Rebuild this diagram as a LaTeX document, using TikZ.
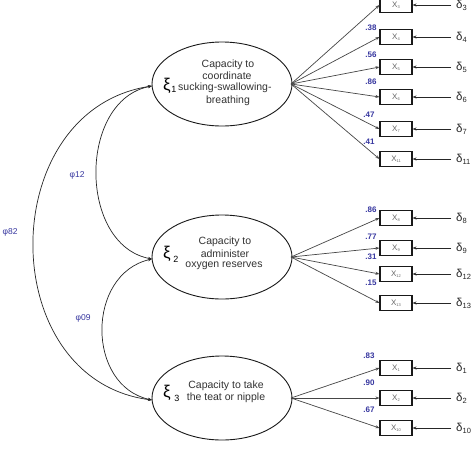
\documentclass[tikz,border=0pt]{standalone}
\usepackage{fontspec}
\setmainfont{Liberation Sans}
\usetikzlibrary{shapes.geometric,arrows.meta}
\definecolor{lblue}{RGB}{55,55,160}
\definecolor{lgray}{RGB}{70,70,70}
\newcommand\xsub[1]{X\raisebox{-1.2pt}{\fontsize{4}{4}\selectfont #1}}
\begin{document}
\begin{tikzpicture}[x=1pt,y=-1pt,
  latent/.style={draw=black!90,line width=0.9pt,ellipse,minimum width=140pt,minimum height=84pt,inner sep=0pt},
  txt/.style={font=\fontsize{10.5}{12}\selectfont,text=black!80,inner sep=0pt},
  xi/.style={font=\fontsize{17}{17}\selectfont,inner sep=0pt},
  xisub/.style={font=\fontsize{9}{9}\selectfont,inner sep=0pt},
  obs/.style={draw=black!90,line width=1.1pt,minimum width=32pt,minimum height=15pt,inner sep=0pt,font=\fontsize{8}{8}\selectfont,text=black!60},
  load/.style={draw=lgray,line width=0.7pt,-{Stealth[length=4pt,width=3pt]}},
  err/.style={draw=black!85,line width=0.8pt,-{Stealth[length=4pt,width=3pt]}},
  cov/.style={draw=black!85,line width=0.7pt,{Stealth[length=4pt,width=3pt]}-{Stealth[length=4pt,width=3pt]}},
  coef/.style={font=\fontsize{8}{8}\selectfont\bfseries,text=lblue,inner sep=0pt},
  phil/.style={font=\fontsize{8.5}{8.5}\selectfont,text=lblue,inner sep=0pt},
  dlab/.style={anchor=west,font=\fontsize{11.5}{11.5}\selectfont,text=black!85,inner sep=0pt}]
\useasboundingbox (0,0) rectangle (474,474);
\fill[white] (0,0) rectangle (474,474);

% latent variables
\node[latent] (e1) at (222,84) {};
\node[latent] (e2) at (222,257) {};
\node[latent] (e3) at (222,398) {};

% texts in ellipses
\node[txt] at (228,65) {Capacity to};
\node[txt] at (227,76) {coordinate};
\node[txt,anchor=west] at (178,88) {sucking-swallowing-};
\node[txt] at (228,101) {breathing};
\node[xi] at (167,86) {ξ};
\node[xisub] at (174,89) {1};

\node[txt] at (225,242) {Capacity to};
\node[txt] at (225,254) {administer};
\node[txt] at (224,266) {oxygen reserves};
\node[xi] at (167,254) {ξ};
\node[xisub] at (176,259) {2};

\node[txt] at (226,386) {Capacity to take};
\node[txt] at (226,398) {the teat or nipple};
\node[xi] at (167,393) {ξ};
\node[xisub] at (177,398) {3};

% covariances
\coordinate (c1) at (152,86);
\coordinate (c2) at (152,259);
\coordinate (c3) at (152,400);
\draw[cov] (c1) .. controls (-6,110) and (-6,380) .. (c3);
\draw[cov] (c1) .. controls (78,100) and (78,245) .. (c2);
\draw[cov] (c2) .. controls (86,274) and (86,386) .. (c3);
\node[phil] at (77,175) {φ12};
\node[phil] at (10,232) {φ82};
\node[phil] at (83,318) {φ09};

% observed variables
\coordinate (o1) at (291,84);
\coordinate (o2) at (291,257);
\coordinate (o3) at (291,398);

\foreach \n/\yy in {3/5,4/37,5/67,6/97,7/129,11/159}{
  \node[obs] (x\n) at (396,\yy) {\xsub{\n}};
  \coordinate (d\n) at (451,\yy);
  \draw[load] (o1) -- (x\n.west);
  \draw[err] (d\n) -- (x\n.east);
  \node[dlab] at (456,\yy) {δ\raisebox{-2pt}{\fontsize{7.5}{7.5}\selectfont\n}};
}
\foreach \n/\yy in {8/218,9/248,12/274,13/303}{
  \node[obs] (x\n) at (396,\yy) {\xsub{\n}};
  \coordinate (d\n) at (451,\yy);
  \draw[load] (o2) -- (x\n.west);
  \draw[err] (d\n) -- (x\n.east);
  \node[dlab] at (456,\yy) {δ\raisebox{-2pt}{\fontsize{7.5}{7.5}\selectfont\n}};
}
\foreach \n/\yy in {1/368,2/398,10/428}{
  \node[obs] (x\n) at (396,\yy) {\xsub{\n}};
  \coordinate (d\n) at (451,\yy);
  \draw[load] (o3) -- (x\n.west);
  \draw[err] (d\n) -- (x\n.east);
  \node[dlab] at (456,\yy) {δ\raisebox{-2pt}{\fontsize{7.5}{7.5}\selectfont\n}};
}

% loadings
\node[coef] at (371,28) {.38};
\node[coef] at (371,55) {.56};
\node[coef] at (371,82) {.86};
\node[coef] at (369,115) {.47};
\node[coef] at (369,142) {.41};
\node[coef] at (371,210) {.86};
\node[coef] at (371,237) {.77};
\node[coef] at (371,257) {.31};
\node[coef] at (371,283) {.15};
\node[coef] at (369,356) {.83};
\node[coef] at (369,383) {.90};
\node[coef] at (369,410) {.67};
\end{tikzpicture}
\end{document}
